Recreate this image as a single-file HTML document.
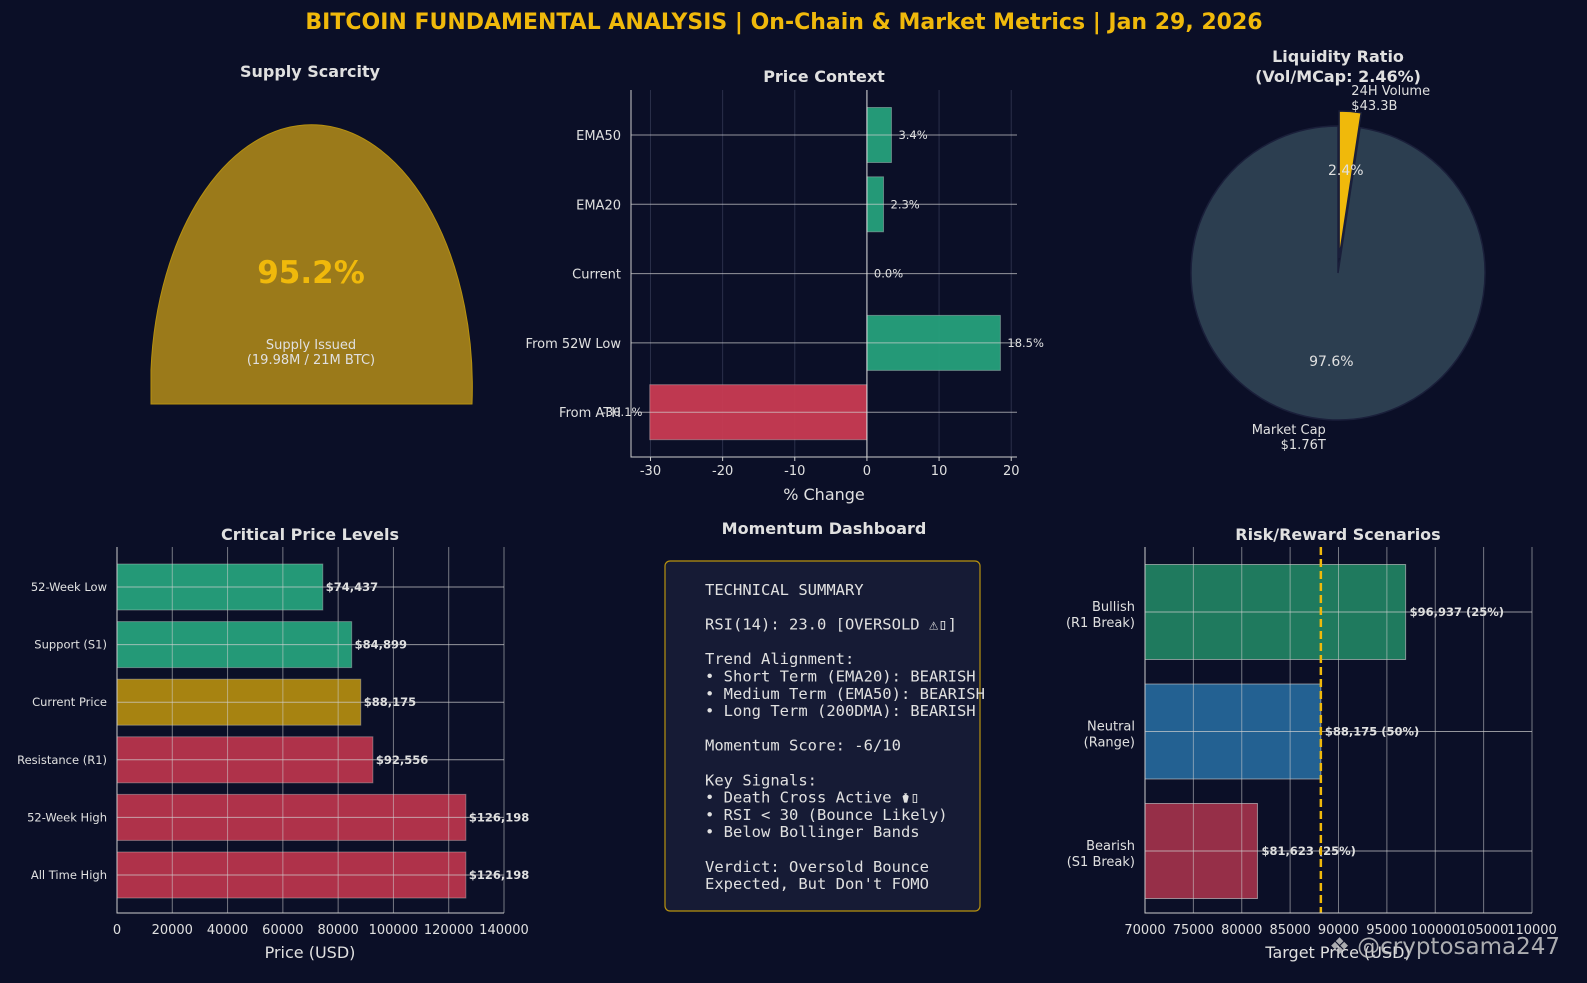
<!DOCTYPE html>
<html><head><meta charset="utf-8">
<style>
html,body{margin:0;padding:0;background:#0b0f27;}
svg{display:block;font-family:"DejaVu Sans","Liberation Sans",sans-serif;}
</style></head>
<body>
<svg id="s" width="1587" height="983" viewBox="0 0 1587 983" xmlns="http://www.w3.org/2000/svg">
<rect width="1587" height="983" fill="#0b0f27"/>
<text x="784" y="29" text-anchor="middle" font-size="22" font-weight="bold" fill="#f0b90b">BITCOIN FUNDAMENTAL ANALYSIS | On-Chain &amp; Market Metrics | Jan 29, 2026</text>

<!-- Supply scarcity -->
<g>
<text x="310" y="77" text-anchor="middle" font-size="16" font-weight="bold" fill="#e0e0e0">Supply Scarcity</text>
<path d="M151,404 L151,370 A160,261 0 0 1 472,404 Z" fill="#9b7a1a" stroke="#b8920f" stroke-width="1"/>
<text x="311" y="283" text-anchor="middle" font-size="31" font-weight="bold" fill="#f0b90b">95.2%</text>
<text x="311" y="349" text-anchor="middle" font-size="13" fill="#e0e0e0">Supply Issued</text>
<text x="311" y="364" text-anchor="middle" font-size="13" fill="#e0e0e0">(19.98M / 21M BTC)</text>
</g>

<g id="pc"></g>
<g id="pie"></g>
<g id="cl"></g>
<g id="rr"></g>

<!-- Momentum -->
<g>
<text x="824" y="534" text-anchor="middle" font-size="16" font-weight="bold" fill="#e0e0e0">Momentum Dashboard</text>
<rect x="665" y="561" width="315" height="350" rx="5" fill="#161b35" stroke="#b8920f" stroke-width="1.2"/>
<g id="mt" font-family="'DejaVu Sans Mono','Liberation Mono',monospace" font-size="15.5" fill="#e0e0e0"></g>
</g>

<text x="1560" y="954" text-anchor="end" font-size="23" fill="#c8c8c8" opacity="0.85">❖ @cryptosama247</text>
</svg>
<script>
// ---------- data ----------
const pcCats = ["EMA50","EMA20","Current","From 52W Low","From ATH"];
const pcVals = [3.4, 2.3, 0.0, 18.5, -30.1];
const pcTicks = [-30,-20,-10,0,10,20];

const pieLabels = ["24H Volume","Market Cap"];
const pieAmounts = ["$43.3B","$1.76T"];
const pieVals = [2.4, 97.6];

const clCats = ["52-Week Low","Support (S1)","Current Price","Resistance (R1)","52-Week High","All Time High"];
const clVals = [74437, 84899, 88175, 92556, 126198, 126198];
const clTicks = [0,20000,40000,60000,80000,100000,120000,140000];

const rrCats = [["Bullish","(R1 Break)"],["Neutral","(Range)"],["Bearish","(S1 Break)"]];
const rrVals = [96937, 88175, 81623];
const rrProb = ["25%","50%","25%"];
const rrTicks = [70000,75000,80000,85000,90000,95000,100000,105000,110000];
const rrCurrent = 88175;

const momLines = ["TECHNICAL SUMMARY","","RSI(14): 23.0 [OVERSOLD \u26A0\uFE0E\u25AF]","","Trend Alignment:","• Short Term (EMA20): BEARISH","• Medium Term (EMA50): BEARISH","• Long Term (200DMA): BEARISH","","Momentum Score: -6/10","","Key Signals:","• Death Cross Active \u26B1\uFE0E\u25AF","• RSI < 30 (Bounce Likely)","• Below Bollinger Bands","","Verdict: Oversold Bounce","Expected, But Don't FOMO"];

const NS="http://www.w3.org/2000/svg";
function mk(p,tag,a,txt){const e=document.createElementNS(NS,tag);for(const k in a)e.setAttribute(k,a[k]);if(txt!==undefined)e.textContent=txt;p.appendChild(e);return e;}
const fmt=v=>"$"+v.toLocaleString("en-US");

// ---------- Price Context ----------
(function(){
const g=document.getElementById('pc');
const L=631,R=1017,T=90,B=457,xmin=-32.7,xmax=20.8;
const x=v=>L+(v-xmin)/(xmax-xmin)*(R-L);
const y0=135,dy=69.3,bh=55;
let t=mk(g,'text',{x:824,y:82,'text-anchor':'middle','font-size':16,'font-weight':'bold',fill:'#e0e0e0'},"Price Context");

pcTicks.forEach(v=>{let l=mk(g,'line',{x1:x(v),x2:x(v),y1:T,y2:B,stroke:'#2a2f4a','stroke-width':1});

let tk=mk(g,'line',{x1:x(v),x2:x(v),y1:B,y2:B+4,stroke:'#ccc'});
let tl=mk(g,'text',{x:x(v),y:B+18,'text-anchor':'middle','font-size':13,fill:'#e0e0e0'},v);
});
pcVals.forEach((v,i)=>{const cy=y0+i*dy;
 if(v!==0){let r=mk(g,'rect',{x:Math.min(x(0),x(v)),y:cy-bh/2,width:Math.abs(x(v)-x(0)),height:bh,fill:v>0?'#26a17b':'#c93b52',stroke:'#cfcfcf','stroke-opacity':0.4,'fill-opacity':0.95});
 }
 let gl=mk(g,'line',{x1:L,x2:R,y1:cy,y2:cy,stroke:'#d0d0d0','stroke-opacity':0.7,'stroke-width':1});
 
 let cl=mk(g,'text',{x:L-10,y:cy+5,'text-anchor':'end','font-size':13,fill:'#e0e0e0'},pcCats[i]);
 
 let vx=v>=0?x(v)+7:x(v)-48;
 let vl=mk(g,'text',{x:vx,y:cy+4,'font-size':11.5,fill:'#e0e0e0'},v.toFixed(1)+"%");
 });
let z=mk(g,'line',{x1:x(0),x2:x(0),y1:T,y2:B,stroke:'#e0e0e0','stroke-width':1});
let ax=mk(g,'path',{d:`M${L},${T} L${L},${B} L${R},${B}`,fill:'none',stroke:'#ccc'});
let xl=mk(g,'text',{x:824,y:500,'text-anchor':'middle','font-size':16,fill:'#e0e0e0'},"% Change");
})();

// ---------- Pie ----------
(function(){
const g=document.getElementById('pie');
const cx=1338,cy=273,r=147;
let t=mk(g,'text',{x:1338,y:62,'text-anchor':'middle','font-size':16,'font-weight':'bold',fill:'#e0e0e0'},"Liquidity Ratio");

let t2=mk(g,'text',{x:1338,y:82,'text-anchor':'middle','font-size':16,'font-weight':'bold',fill:'#e0e0e0'},"(Vol/MCap: 2.46%)");

const total=pieVals.reduce((a,b)=>a+b,0);
let a0=90;const cols=['#f0b90b','#2c3e50'];const expl=[15,0];
const labels=[];
pieVals.forEach((v,i)=>{const sweep=v/total*360;const a1=a0-sweep;const mid=(a0+a1)/2*Math.PI/180;
 const ox=cx+expl[i]*Math.cos(mid),oy=cy-expl[i]*Math.sin(mid);
 const p=a=>[ox+r*Math.cos(a*Math.PI/180),oy-r*Math.sin(a*Math.PI/180)];
 const [x1,y1]=p(a0),[x2,y2]=p(a1);
 let s=mk(g,'path',{d:`M${ox},${oy} L${x1},${y1} A${r},${r} 0 ${sweep>180?1:0} 1 ${x2},${y2} Z`,fill:cols[i],stroke:'#1a1f3a','stroke-width':1.5});
 
 labels.push({v,mid,ox,oy,i});
 a0=a1;});
labels.forEach(({v,mid,ox,oy,i})=>{
 const pl=mk(g,'text',{x:ox+0.6*r*Math.cos(mid),y:oy-0.6*r*Math.sin(mid)+5,'text-anchor':'middle','font-size':14,fill:'#e0e0e0'},v.toFixed(1)+"%");
 
 const lx=ox+1.1*r*Math.cos(mid),ly=oy-1.1*r*Math.sin(mid);const anc=Math.cos(mid)>=0?'start':'end';
 const up=Math.sin(mid)>0;
 const l1=mk(g,'text',{x:lx,y:up?ly-2:ly,'text-anchor':anc,'font-size':13,fill:'#e0e0e0'},pieLabels[i]);
 
 const l2=mk(g,'text',{x:lx,y:up?ly+13:ly+15,'text-anchor':anc,'font-size':13,fill:'#e0e0e0'},pieAmounts[i]);
 });
})();

// ---------- Critical Levels ----------
(function(){
const g=document.getElementById('cl');
const L=117,R=504,T=547,B=913,xmin=0,xmax=140000;
const x=v=>L+(v-xmin)/(xmax-xmin)*(R-L);
const y0=587,dy=57.6,bh=46;const cols=['#26a17b','#26a17b','#b08a10','#b8354c','#b8354c','#b8354c'];
let t=mk(g,'text',{x:310,y:540,'text-anchor':'middle','font-size':16,'font-weight':'bold',fill:'#e0e0e0'},"Critical Price Levels");

clVals.forEach((v,i)=>{const cy=y0+i*dy;
 let r=mk(g,'rect',{x:x(0),y:cy-bh/2,width:x(v)-x(0),height:bh,fill:cols[i],'fill-opacity':0.95,stroke:'#cfcfcf','stroke-opacity':0.4});
 
 let vl=mk(g,'text',{x:x(v)+3,y:cy+4,'font-size':11.5,'font-weight':'bold',fill:'#e0e0e0'},fmt(v));
 
 let cl=mk(g,'text',{x:L-10,y:cy+4,'text-anchor':'end','font-size':11.5,fill:'#e0e0e0'},clCats[i]);
 });
clVals.forEach((v,i)=>{const cy=y0+i*dy;let gl=mk(g,'line',{x1:L,x2:R,y1:cy,y2:cy,stroke:'#d0d0d0','stroke-opacity':0.7});
 });
clTicks.forEach(v=>{let l=mk(g,'line',{x1:x(v),x2:x(v),y1:T,y2:B,stroke:'#d0d0d0','stroke-opacity':0.55});
 
 let tl=mk(g,'text',{x:x(v),y:B+21,'text-anchor':'middle','font-size':13,fill:'#e0e0e0'},v);
 });
let ax=mk(g,'path',{d:`M${L},${T} L${L},${B} L${R},${B}`,fill:'none',stroke:'#ccc'});
let xl=mk(g,'text',{x:310,y:958,'text-anchor':'middle','font-size':16,fill:'#e0e0e0'},"Price (USD)");
})();

// ---------- Risk/Reward ----------
(function(){
const g=document.getElementById('rr');
const L=1145,R=1532,T=547,B=913,xmin=70000,xmax=110000;
const x=v=>L+(v-xmin)/(xmax-xmin)*(R-L);
const y0=612,dy=119.5,bh=95;const cols=['#1f7a5e','#236192','#962f48'];
let t=mk(g,'text',{x:1338,y:540,'text-anchor':'middle','font-size':16,'font-weight':'bold',fill:'#e0e0e0'},"Risk/Reward Scenarios");

rrVals.forEach((v,i)=>{const cy=y0+i*dy;
 let r=mk(g,'rect',{x:x(xmin),y:cy-bh/2,width:x(v)-x(xmin),height:bh,fill:cols[i],stroke:'#cfcfcf','stroke-opacity':0.6});
 
 let vl=mk(g,'text',{x:x(v)+4,y:cy+4,'font-size':11.5,'font-weight':'bold',fill:'#e0e0e0'},fmt(v)+" ("+rrProb[i]+")");
 
 let c1=mk(g,'text',{x:L-10,y:cy-1,'text-anchor':'end','font-size':13,fill:'#e0e0e0'},rrCats[i][0]);
 
 let c2=mk(g,'text',{x:L-10,y:cy+15,'text-anchor':'end','font-size':13,fill:'#e0e0e0'},rrCats[i][1]);
 
 let gl=mk(g,'line',{x1:L,x2:R,y1:cy,y2:cy,stroke:'#d0d0d0','stroke-opacity':0.7});
 });
rrTicks.forEach(v=>{let l=mk(g,'line',{x1:x(v),x2:x(v),y1:T,y2:B,stroke:'#d0d0d0','stroke-opacity':0.55});
 
 let tl=mk(g,'text',{x:x(v),y:B+21,'text-anchor':'middle','font-size':13,fill:'#e0e0e0'},v);
 });
let dl=mk(g,'line',{x1:x(rrCurrent),x2:x(rrCurrent),y1:T,y2:B,stroke:'#f0b90b','stroke-width':2.5,'stroke-dasharray':'8,4'});

let ax=mk(g,'path',{d:`M${L},${T} L${L},${B} L${R},${B}`,fill:'none',stroke:'#ccc'});
let xl=mk(g,'text',{x:1338,y:958,'text-anchor':'middle','font-size':16,fill:'#e0e0e0'},"Target Price (USD)");
})();

// ---------- Momentum text ----------
(function(){
const g=document.getElementById('mt');
momLines.forEach((s,i)=>{if(!s)return;let t=mk(g,'text',{x:705,y:595+i*17.3,'xml:space':'preserve'},s);
 });
})();
</script>
</body></html>
